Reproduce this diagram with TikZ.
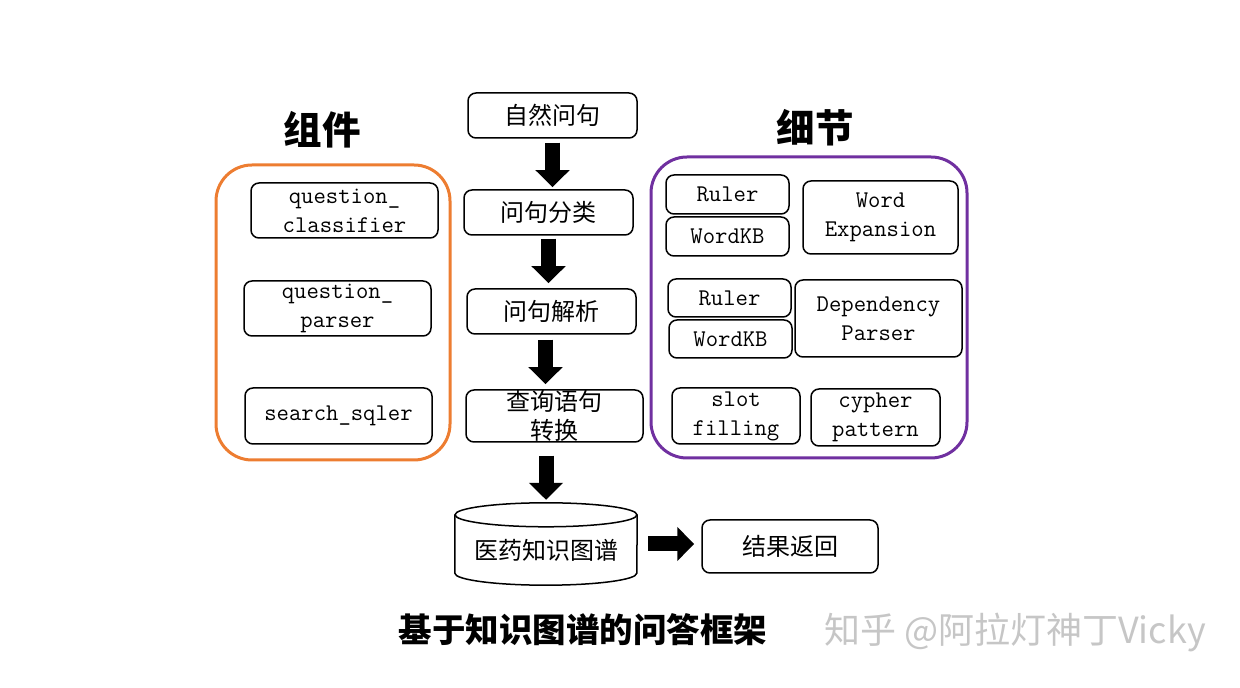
\documentclass[tikz,border=0pt]{standalone}
\usepackage{fontspec}
\newfontfamily\cjk{Noto Sans CJK SC}
\usepackage{tikz}
\usetikzlibrary{arrows.meta}
\usetikzlibrary{positioning}
\usetikzlibrary{calc}
\definecolor{frameorange}{RGB}{237,125,49}
\definecolor{framepurple}{RGB}{112,48,160}
\tikzset{every picture/.style={x=1pt,y=1pt}}

\begin{document}
\begin{tikzpicture}[
  box/.style={draw, line width=1.5pt, rounded corners=8pt, inner sep=0pt, align=center},
  flow/.style={box, font=\cjk\fontsize{24}{29}\selectfont},
  part/.style={box, font=\ttfamily\fontsize{24}{29}\selectfont},
  frame/.style={line width=3pt, rounded corners=36pt, inner sep=0pt},
  bigarrow/.style={line width=15pt, -{Triangle[width=33pt,length=17pt]}},
  title/.style={font=\cjk\bfseries\fontsize{38.5}{42}\selectfont}]
\useasboundingbox (0,0) rectangle (1240,688);
% frames and titles
\node (comp) at (333,375.5) [frame, draw=frameorange, minimum width=234pt, minimum height=295pt] {};
\node (detail) at (809,380.5) [frame, draw=framepurple, minimum width=316pt, minimum height=301pt] {};
\node (compt) at (322,558) [title] {组件};
\node (detailt) at (815,560) [title] {细节};
% components
\foreach \n/\x/\y/\w/\h/\t in {qc/344.5/477.5/187/55/{question\_\\classifier}, qp/337.5/379.5/187/55/{question\_\\parser}, ss/338.5/272/187/56/{search\_sqler},
  r1/727.5/493.5/123/39/Ruler, w1/727.5/451.5/123/39/WordKB, we/880.5/470.5/155/73/{Word\\Expansion},
  r2/729.5/390/123/38/Ruler, w2/730.5/349/123/38/WordKB, dp/878.5/369.5/167/77/{Dependency\\Parser},
  sf/736/272/128/56/{slot\\filling}, cp/875.5/270.5/129/57/{cypher\\pattern}}
  \node (\n) at (\x,\y) [part, minimum width=\w pt, minimum height=\h pt] {\t};
% pipeline
\node (zr) at (552.5,572.5) [flow, minimum width=169pt, minimum height=45pt] {自然问句};
\node (fl) at (548.5,475.5) [flow, minimum width=169pt, minimum height=45pt] {问句分类};
\node (jx) at (551.5,376.5) [flow, minimum width=169pt, minimum height=45pt] {问句解析};
\node (zh) at (554.5,272) [flow, minimum width=177pt, minimum height=52pt] {查询语句\\转换};
\node (kg) at (546,144) [minimum width=182pt, minimum height=82pt, inner sep=0pt] {};
\draw[line width=1.5pt] ([yshift=-12pt]kg.north west) -- ([yshift=12pt]kg.south west) arc[start angle=180, end angle=360, x radius=91pt, y radius=12pt] -- ([yshift=-12pt]kg.north east);
\draw[line width=1.5pt] ([yshift=-12pt]kg.north) ellipse [x radius=91pt, y radius=12pt];
\node (kgt) at ([yshift=-6pt]kg.center) [font=\cjk\fontsize{24}{29}\selectfont] {医药知识图谱};
\node (jg) at (790,141.5) [flow, minimum width=176pt, minimum height=53pt] {结果返回};
\draw[bigarrow, shorten <=4pt, shorten >=2pt] (zr.south) -- (zr.south |- fl.north);
\draw[bigarrow, shorten <=3pt, shorten >=5pt] (fl.south) -- (fl.south |- jx.north);
\draw[bigarrow, shorten <=5pt, shorten >=5pt] ([xshift=-6pt]jx.south) -- ([xshift=-6pt]jx.south |- zh.north);
\draw[bigarrow, shorten <=13pt, shorten >=3pt] (kg.north |- zh.south) -- (kg.north);
\draw[bigarrow, shorten <=11pt, shorten >=7pt] (kg.east) -- (kg.east -| jg.west);
% caption
\node (cap) at (583,58) [font=\cjk\bfseries\fontsize{33.5}{37}\selectfont] {基于知识图谱的问答框架};
\node (mark) at (1015,56) [text=gray!45, font=\cjk\fontsize{36}{40}\selectfont] {知乎 @阿拉灯神丁Vicky};
\end{tikzpicture}
\end{document}
